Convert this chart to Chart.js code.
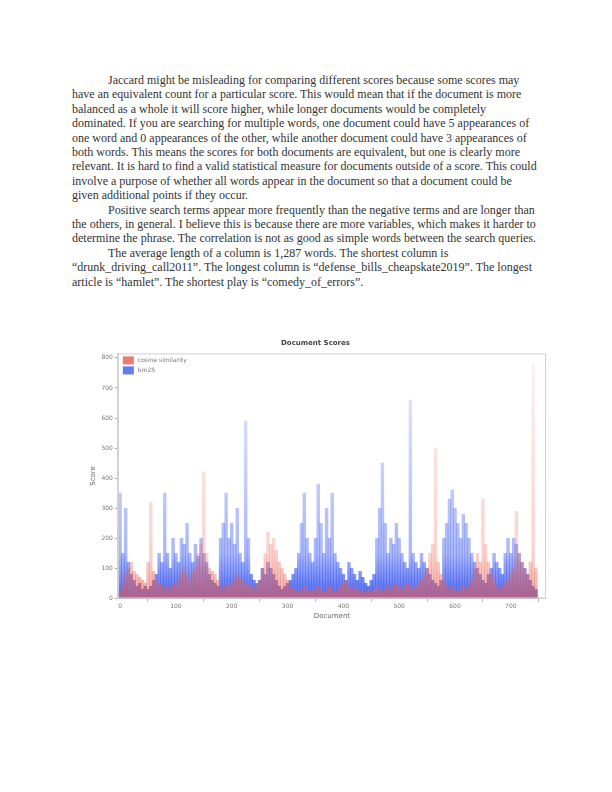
<!DOCTYPE html>
<html>
<head>
<meta charset="utf-8">
<script src="https://cdn.jsdelivr.net/npm/chart.js@4.4.1/dist/chart.umd.min.js"></script>
<style>
  body { margin: 0; width: 612px; height: 792px; background: #fff; position: relative; }
  #text { position: absolute; left: 72px; top: 73px; width: 468px;
          font-family: "Liberation Serif", serif; font-size: 12px; line-height: 14.4px; color: #333; }
  #text p { margin: 0; text-indent: 36px; }
  #wrap { position: absolute; left: 85px; top: 333px; width: 469px; height: 287px; }
</style>
</head>
<body>
<div id="text">
<p>Jaccard might be misleading for comparing different scores because some scores may have an equivalent count for a particular score. This would mean that if the document is more balanced as a whole it will score higher, while longer documents would be completely dominated. If you are searching for multiple words, one document could have 5 appearances of one word and 0 appearances of the other, while another document could have 3 appearances of both words. This means the scores for both documents are equivalent, but one is clearly more relevant. It is hard to find a valid statistical measure for documents outside of a score. This could involve a purpose of whether all words appear in the document so that a document could be given additional points if they occur.</p>
<p>Positive search terms appear more frequently than the negative terms and are longer than the others, in general. I believe this is because there are more variables, which makes it harder to determine the phrase. The correlation is not as good as simple words between the search queries.</p>
<p>The average length of a column is 1,287 words. The shortest column is “drunk_driving_call2011”. The longest column is “defense_bills_cheapskate2019”. The longest article is “hamlet”. The shortest play is “comedy_of_errors”.</p>
</div>
<div id="wrap"><canvas id="vis"></canvas></div>
<script>
// documents grouped in bins of 5, value = score of the bin
const binSize = 5;
const cosineScores = [
  20, 40, 80, 100, 120, 90, 80, 70, 60, 50,
  120, 320, 90, 60, 50, 40, 30, 40, 30, 50,
  40, 60, 80, 100, 80, 60, 90, 100, 150, 180,
  420, 150, 100, 90, 80, 60, 40, 30, 50, 40,
  50, 60, 80, 70, 60, 40, 50, 40, 30, 40,
  60, 100, 150, 220, 180, 200, 160, 120, 100, 80,
  60, 40, 30, 30, 20, 30, 40, 30, 20, 30,
  30, 40, 30, 20, 30, 40, 30, 20, 30, 40,
  50, 60, 40, 30, 40, 30, 20, 30, 20, 30,
  20, 30, 40, 30, 20, 30, 40, 30, 40, 50,
  40, 30, 40, 50, 40, 30, 40, 50, 60, 80,
  100, 150, 180, 500, 120, 80, 60, 40, 30, 40,
  30, 20, 30, 40, 30, 40, 60, 100, 150, 120,
  330, 180, 120, 80, 60, 40, 30, 40, 50, 60,
  80, 100, 290, 150, 120, 100, 80, 120, 780, 100
];
const bm25Scores = [
  350, 150, 300, 120, 80, 60, 40, 50, 30, 40,
  30, 40, 60, 80, 150, 120, 350, 150, 100, 200,
  150, 120, 200, 180, 250, 150, 120, 180, 140, 200,
  150, 120, 80, 60, 50, 40, 200, 250, 350, 200,
  250, 180, 300, 150, 120, 590, 200, 80, 60, 50,
  60, 100, 80, 120, 100, 80, 60, 40, 30, 40,
  50, 60, 80, 100, 150, 250, 350, 200, 150, 120,
  200, 380, 250, 150, 300, 200, 350, 150, 120, 100,
  80, 60, 120, 100, 80, 60, 90, 70, 50, 40,
  60, 80, 200, 300, 450, 250, 150, 200, 180, 250,
  200, 150, 120, 100, 660, 150, 120, 100, 150, 120,
  100, 80, 60, 50, 40, 60, 200, 250, 330, 360,
  300, 250, 200, 280, 250, 200, 150, 120, 100, 80,
  60, 50, 80, 100, 150, 120, 100, 80, 150, 200,
  150, 200, 180, 150, 120, 100, 80, 60, 40, 30
];
const seriesNames = ['cosine similarity', 'bm25'];
const legendColors = ['rgba(235,110,95,0.9)', 'rgba(80,110,240,0.9)'];
const xTicks = [0, 100, 200, 300, 400, 500, 600, 700];
const yTicks = [0, 100, 200, 300, 400, 500, 600, 700, 800];

function points(values) {
  return values.map((v, i) => ({ x: i * binSize, y: v }));
}

function fade(rgb, a0, a1, a2) {
  return (c) => {
    const area = c.chart.chartArea;
    if (!area) return 'rgba(' + rgb + ',' + a1 + ')';
    const g = c.chart.ctx.createLinearGradient(0, area.bottom, 0, area.top);
    g.addColorStop(0, 'rgba(' + rgb + ',' + a0 + ')');
    g.addColorStop(0.18, 'rgba(' + rgb + ',' + a1 + ')');
    g.addColorStop(1, 'rgba(' + rgb + ',' + a2 + ')');
    return g;
  };
}

// box around the plot + legend in the top-left corner of it
const frame = {
  id: 'frame',
  afterDatasetsDraw(chart) {
    const a = chart.chartArea, c = chart.ctx;
    c.save();
    c.strokeStyle = '#d0d0d0';
    c.lineWidth = 1;
    c.strokeRect(a.left + 0.5, a.top + 0.5, a.width - 1, a.height - 1);
    c.font = '6px "DejaVu Sans"';
    c.textBaseline = 'middle';
    chart.data.datasets.forEach((ds, i) => {
      const y = a.top + 7 + i * 10;
      c.fillStyle = legendColors[i];
      c.fillRect(a.left + 5, y - 4, 11, 8);
      c.fillStyle = '#777';
      c.fillText(ds.label, a.left + 20, y);
    });
    c.restore();
  }
};

Chart.defaults.font.family = 'DejaVu Sans';
Chart.defaults.font.size = 6;
Chart.defaults.color = '#666';

const ctx = document.getElementById('vis').getContext('2d');
const myChart = new Chart(ctx, {
  type: 'bar',
  data: {
    datasets: [{
      label: seriesNames[0],
      data: points(cosineScores),
      backgroundColor: fade('235,95,80', 0.55, 0.28, 0.08),
      borderWidth: 0,
      grouped: false,
      barPercentage: 1,
      categoryPercentage: 1
    }, {
      label: seriesNames[1],
      data: points(bm25Scores),
      backgroundColor: fade('55,85,240', 0.88, 0.42, 0.1),
      borderWidth: 0,
      grouped: false,
      barPercentage: 1,
      categoryPercentage: 1
    }]
  },
  options: {
    responsive: true,
    maintainAspectRatio: false,
    animation: false,
    layout: { padding: { left: 0, right: 8, top: 0, bottom: 0 } },
    plugins: {
      title: { display: true, text: 'Document Scores', color: '#444', font: { size: 7 }, padding: { top: 6, bottom: 6 } },
      legend: { display: false },
      tooltip: { enabled: false }
    },
    scales: {
      x: {
        type: 'linear',
        offset: false,
        min: -4,
        max: 763,
        afterBuildTicks(s) { s.ticks = xTicks.map(v => ({ value: v })); },
        ticks: { color: '#777', padding: 1 },
        grid: { drawOnChartArea: false, tickLength: 3, color: '#aaa' },
        border: { color: '#d0d0d0' },
        title: { display: true, text: 'Document', color: '#666', font: { size: 7 }, padding: { top: 1, bottom: 0 } }
      },
      y: {
        min: 0,
        max: 815,
        afterBuildTicks(s) { s.ticks = yTicks.map(v => ({ value: v })); },
        ticks: { color: '#777', padding: 2 },
        grid: { drawOnChartArea: false, tickLength: 3, color: '#aaa' },
        border: { color: '#d0d0d0' },
        title: { display: true, text: 'Score', color: '#666', font: { size: 7 }, padding: { bottom: 2 } }
      }
    }
  },
  plugins: [frame]
});
</script>
</body>
</html>
